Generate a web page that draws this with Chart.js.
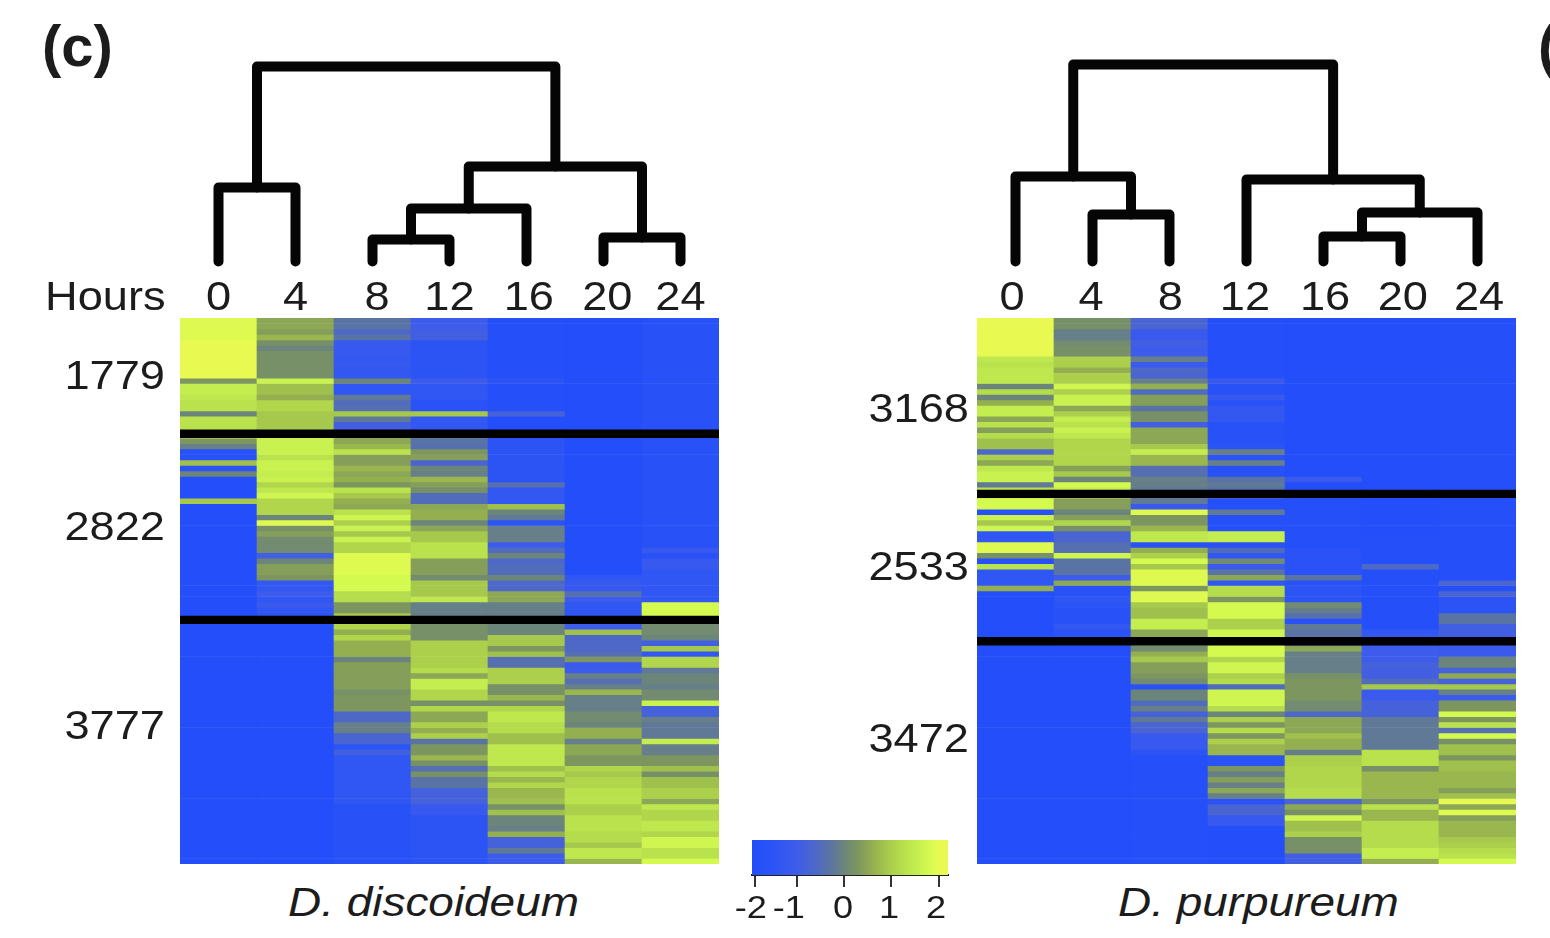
<!DOCTYPE html>
<html>
<head>
<meta charset="utf-8">
<title>Expression clusters</title>
<script src="https://cdn.jsdelivr.net/npm/chart.js@4"></script>
<style>
    html, body { margin: 0; background: #fff; }
    #page { position: relative; width: 1550px; height: 938px; overflow: hidden; }
    canvas { position: absolute; }
    .note { position: absolute; color: #1c1c1c; font-family: "Liberation Sans", sans-serif; white-space: nowrap; transform-origin: left top; }
</style>
</head>
<body>
<div id="page">
    <canvas id="ddTree" width="730" height="330" style="left:0;top:0"></canvas>
    <canvas id="ppTree" width="560" height="330" style="left:960px;top:0"></canvas>
    <canvas id="ddHeat" width="730" height="560" style="left:0;top:310px"></canvas>
    <canvas id="ppHeat" width="680" height="560" style="left:850px;top:310px"></canvas>
    <canvas id="colorKey" width="260" height="105" style="left:720px;top:830px"></canvas>
    <div class="note" style="left:42px;top:12px;font-size:58px;font-weight:bold">(c)</div>
    <div class="note" style="left:1538px;top:12px;font-size:58px;font-weight:bold">(</div>
    <div class="note" style="left:288px;top:879px;font-size:41px;font-style:italic;transform:scaleX(1.12)">D. discoideum</div>
    <div class="note" style="left:1118px;top:879px;font-size:41px;font-style:italic;transform:scaleX(1.12)">D. purpureum</div>
</div>

<script>
const hours = ['0', '4', '8', '12', '16', '20', '24'];

// z-scored expression per gene row, top to bottom, one list per time point
const ddHour0 = [
    1.9, 1.9, 1.9, 1.9, 2, 2, 2, 2, 2, 2,
    2, .3, 1.5, 1.5, 1.4, 1.3, 1.3, 0, 1.3, 1.3,
    1.3, 1.3, .3, -.1, -1.7, -1.7, .8, -1.6, 0, -1.9,
    -1.9, -1.9, -1.9, .9, -1.9, -1.9, -1.9, -1.9, -1.9, -1.9,
    -1.9, -1.9, -1.9, -1.9, -1.9, -1.9, -1.9, -1.9, -1.9, -1.9,
    -1.9, -1.9, -1.9, -1.9, -1.9, -1.9, -1.9, -1.9, -1.9, -1.9,
    -1.9, -1.9, -1.9, -1.9, -1.9, -1.9, -1.9, -1.9, -1.9, -1.9,
    -1.9, -1.9, -1.9, -1.9, -1.9, -1.9, -1.9, -1.9, -1.9, -1.9,
    -1.9, -1.9, -1.9, -1.9, -1.9, -1.9, -1.9, -1.9, -1.9, -1.9,
    -1.9, -1.9, -1.9, -1.9, -1.9, -1.9, -1.9, -1.9, -1.9, -1.9
];
const ddHour4 = [
    .5, .5, .4, .7, .2, 0, .2, .2, .2, .2,
    .2, 1.6, .8, .8, .6, 1.1, 1.1, .9, .9, .9,
    .9, 1.6, 1.6, 1.6, 1.6, 1.3, 1.6, 1.6, 1.5, 1.6,
    1.1, 1.4, 1.7, 1.1, 1.1, 1.1, 0, 1.9, .2, .4,
    .1, .1, .1, -.9, 0, .4, .4, .3, -1.3, -1.3,
    -1, -1.4, -1.1, -1.4, -1.5, -1.6, -1.9, -1.9, -1.9, -1.9,
    -1.9, -1.9, -1.9, -1.9, -1.9, -1.9, -1.9, -1.9, -1.9, -1.9,
    -1.9, -1.9, -1.9, -1.9, -1.9, -1.9, -1.9, -1.9, -1.9, -1.9,
    -1.9, -1.9, -1.9, -1.9, -1.9, -1.9, -1.9, -1.9, -1.9, -1.9,
    -1.9, -1.9, -1.9, -1.9, -1.9, -1.9, -1.9, -1.9, -1.9, -1.9
];
const ddHour8 = [
    -.3, -.3, -.6, -.3, -1.2, -1.2, -1.2, -1.3, -1.2, -1.3,
    -1.3, 0, -1.4, -1.4, -.2, -.5, -.4, .9, -.2, -.9,
    -.9, .5, .5, .7, 1.3, .4, .4, .7, .5, .6,
    .3, 1.3, .9, .6, .5, 1.3, 1.7, 1, 1.6, .9,
    1.6, 1.1, 1.1, 1.9, 1.9, 1.9, 1.9, 1.8, 1.8, 1.8,
    1.2, 1.2, .3, .3, .9, .8, 1.1, .6, 1.1, .6,
    .6, .6, 0, .4, .4, .4, .4, .4, .2, .3,
    .3, .3, -.6, -.6, -.1, -.1, -.7, -.7, -1.5, -.9,
    -1.4, -1.4, -1.4, -1.4, -1.4, -1.4, -1.4, -1.4, -1.4, -1.7,
    -1.7, -1.7, -1.7, -1.7, -1.7, -1.7, -1.7, -1.7, -1.7, -1.7
];
const ddHour12 = [
    -1, -1, -.9, -.9, -1.5, -1.5, -1.5, -1.5, -1.5, -1.5,
    -1.5, -1, -1.4, -1.4, -1.4, -1.6, -1.6, .9, -1.3, -1.3,
    -1.3, -.3, -.3, -.4, .3, .4, -.7, 0, -.1, .7,
    .4, .2, -.5, -.5, .5, .6, .6, 0, .5, .9,
    .9, 1.3, 1.3, 1.3, .4, .4, .4, .1, .9, .9,
    .9, 1.4, -.1, -.1, -.1, -.1, .2, .2, .2, 1,
    1, 1, 1, 1, 1.2, .5, 1.5, 1.5, 1.1, 1.1,
    .2, 1.1, .5, .5, 1, .6, 1, -.3, .3, .3,
    .7, .2, -.4, .2, -.3, -.3, -.8, -.8, -.8, -1.2,
    -1.2, -1.5, -1.5, -1.5, -1.5, -1.5, -1.5, -1.5, -1.5, -1.5
];
const ddHour16 = [
    -1.8, -1.8, -1.8, -1.8, -1.8, -1.8, -1.8, -1.8, -1.8, -1.8,
    -1.8, -1.5, -1.8, -1.8, -1.8, -1.8, -1.8, -.8, -1.9, -1.9,
    -1.9, -1.9, -1.5, -1.5, -1.5, -1.5, -1.5, -1.5, -1.5, -1.5,
    -.4, -1.3, -1.3, -1.3, .8, 0, -.2, -1.5, -.1, -.1,
    -.1, -1, -.5, 0, -.6, -.5, -.5, 0, -.6, -.6,
    .5, .5, -.1, -.1, -.1, -.1, 0, 0, .9, .9,
    .3, .8, -.4, -.4, 1, 1, 1, .2, .2, .7,
    .2, 1.1, 1.4, 1.4, 1.2, 1.2, .8, .8, 1.4, 1.4,
    1.4, 1.4, .8, 1.2, .7, 1.1, .7, .7, .8, .2,
    .8, 0, 0, -.1, .6, -.8, -.8, -.2, -1, -1
];
const ddHour20 = [
    -1.9, -1.9, -1.9, -1.9, -1.9, -1.9, -1.9, -1.9, -1.9, -1.9,
    -1.9, -1.9, -1.9, -1.9, -1.9, -1.9, -1.9, -1.9, -1.9, -1.9,
    -1.9, -1.9, -1.9, -1.9, -1.9, -1.9, -1.9, -1.9, -1.9, -1.9,
    -1.9, -1.9, -1.9, -1.9, -1.9, -1.9, -1.9, -1.9, -1.9, -1.9,
    -1.9, -1.9, -1.9, -1.9, -1.9, -1.9, -1.9, -1.4, -1.2, -1.2,
    -.4, -1, -1.4, -1.4, -1.4, -1.4, -1, .8, -.6, -.6,
    -.6, -.4, .3, -1.1, -1, -.1, -.4, -.1, .7, -.1,
    -.1, -.1, .1, .1, 0, .6, .6, -.1, .5, .5,
    .3, .3, 1.1, .9, 1.1, 1.1, 1.3, 1.3, 1.3, 1,
    1, 1.3, 1.3, 1.3, 1.2, 1.2, .9, 1.4, 1.4, .7
];
const ddHour24 = [
    -1.7, -1.7, -1.7, -1.7, -1.7, -1.7, -1.7, -1.7, -1.7, -1.7,
    -1.7, -1.7, -1.7, -1.7, -1.7, -1.7, -1.7, -1.7, -1.7, -1.7,
    -1.7, -1.7, -1.7, -1.7, -1.7, -1.7, -1.7, -1.7, -1.7, -1.7,
    -1.7, -1.7, -1.7, -1.7, -1.7, -1.7, -1.7, -1.7, -1.7, -1.7,
    -1.7, -1.7, -1.2, -1.7, -1.2, -1.2, -1.4, -1.4, -1.4, -1.4,
    -1.4, -1.4, 1.8, 1.8, 1.8, 1.8, .1, .1, 0, -.9,
    .9, -1.3, 1.1, 1.1, -.2, 0, 0, -.1, .1, .1,
    1.6, -.8, -.8, -.1, -.2, -.2, -.2, 1.5, -.1, -.1,
    .3, .3, .8, .2, .8, .8, 1, 1, .5, 1.4,
    1.1, 1.1, 1.4, 1.4, 1.1, 1.7, 1.7, 1.3, 1.3, 1.8
];

const ppHour0 = [
    2, 2, 2, 2, 2, 2, 2, 1.4, 1.3, 1.4,
    1.4, 1.4, 0, 1.2, 0, .6, 1.5, 1.5, .5, 1.3,
    .4, 1.2, .8, .8, -.6, 1, .5, 1.4, 1.6, 1.6,
    -.2, 1.3, 1.3, 1.8, 1.8, -1.7, 1.6, .9, 1.7, -1.4,
    -1.4, 1.9, 1.9, .2, -1.8, 1.3, -1.4, -1.4, -1.4, .6,
    -1.9, -1.9, -1.9, -1.9, -1.9, -1.9, -1.9, -1.9, -1.9, -1.9,
    -1.9, -1.9, -1.9, -1.9, -1.9, -1.9, -1.9, -1.9, -1.9, -1.9,
    -1.9, -1.9, -1.9, -1.9, -1.9, -1.9, -1.9, -1.9, -1.9, -1.9,
    -1.9, -1.9, -1.9, -1.9, -1.9, -1.9, -1.9, -1.9, -1.9, -1.9,
    -1.9, -1.9, -1.9, -1.9, -1.9, -1.9, -1.9, -1.9, -1.9, -1.9
];
const ppHour4 = [
    .2, .2, -.1, -.1, .1, .2, .2, 1, 1, .6,
    1, 1, 1.7, 1, 1.6, 1.6, .5, 1, 1.5, 1.3,
    1.6, 1.4, 1.1, 1.1, 1.1, 1.1, 1.1, .4, .9, 0,
    1.8, 1.5, 1, .4, .4, 0, .4, 1.1, .2, -.7,
    -.7, -.4, -.4, 1.7, -.3, -.3, -.3, -1, .5, -1.7,
    -1.7, -1.4, -1.5, -1.7, -1.7, -1.7, -1.3, -1.6, -1.6, -1.6,
    -1.9, -1.9, -1.9, -1.9, -1.9, -1.9, -1.9, -1.9, -1.9, -1.9,
    -1.9, -1.9, -1.9, -1.9, -1.9, -1.9, -1.9, -1.9, -1.9, -1.9,
    -1.9, -1.9, -1.9, -1.9, -1.9, -1.9, -1.9, -1.9, -1.9, -1.9,
    -1.9, -1.9, -1.9, -1.9, -1.9, -1.9, -1.9, -1.9, -1.9, -1.9
];
const ppHour8 = [
    -.7, -.7, -1.1, -1.1, -.9, -1, -1, -.1, -1.1, -.6,
    -.7, -.1, .6, -.5, .4, .4, -.3, .2, .2, -.9,
    .5, .5, .5, .9, 1.5, .7, .7, -.4, -.4, -.1,
    -.1, -.2, -.2, -.2, -1.1, 1.9, .3, .3, .7, 1.4,
    1.4, -1.6, .6, 1, 1.8, .9, 1.9, 1.9, 1.9, .3,
    1.9, 1.9, .9, .8, .8, 1.5, 1.5, .5, .5, .5,
    .1, .6, .9, .4, .4, .3, .1, -1.6, 0, 0,
    -.5, -.1, -.8, -.2, -.7, -.7, -1.2, -1.2, -1.2, -1.5,
    -1.8, -1.8, -1.8, -1.8, -1.8, -1.8, -1.8, -1.8, -1.8, -1.8,
    -1.8, -1.8, -1.8, -1.8, -1.8, -1.8, -1.8, -1.8, -1.8, -1.8
];
const ppHour12 = [
    -1.8, -1.8, -1.8, -1.8, -1.8, -1.8, -1.8, -1.8, -1.8, -1.8,
    -1.8, -1.1, -1.7, -1.7, -1.2, -1.7, -1.3, -1.3, -1.3, -1.7,
    -1.7, -1.7, -1.7, -1.5, -.1, -1.5, -.1, -1.7, -1.7, -.3,
    -.2, -.4, -.4, -1.8, -1.8, -.2, -1.8, -1.8, -1.8, 1.5,
    1.5, -1.6, -.5, -1.4, .1, -1.1, -.3, .5, -1.4, 1.2,
    1.2, .3, 1.8, 1.8, 1.8, 1, 1, 1.7, 1.7, 1.7,
    1.8, 1.8, 1.1, 1.7, 1.7, 1, 1.2, -.5, 1.7, 1.7,
    1.7, 1.2, 0, 1, .3, 1.2, .3, 1, .7, .7,
    -1.5, -1.5, .3, -.1, .4, -.1, .5, -.1, -1.6, -.7,
    -.7, -1.2, -1.2, -1.9, -1.9, -1.9, -1.9, -1.9, -1.9, -1.9
];
const ppHour16 = [
    -1.9, -1.9, -1.9, -1.9, -1.9, -1.9, -1.9, -1.9, -1.9, -1.9,
    -1.9, -1.9, -1.9, -1.9, -1.9, -1.9, -1.9, -1.9, -1.9, -1.9,
    -1.9, -1.9, -1.9, -1.9, -1.9, -1.9, -1.9, -1.9, -1.9, -1.1,
    -1.9, -1.9, -1.9, -1.8, -1.8, -1.8, -1.8, -1.8, -1.8, -1.8,
    -1.8, -1.8, -1.6, -1.6, -1.6, -1.6, -1.6, -.3, -1.7, -1.5,
    -1.5, -1.5, .1, -.1, -.4, -1.6, -.2, -.3, -.3, -.3,
    .5, -.1, -.1, -.1, -.1, .2, .3, .3, .3, .3,
    .1, .1, -.6, .5, .5, .5, .8, .6, .6, -.1,
    1, 1, 1.1, 1.1, 1.1, 1.1, 1.2, 1.2, -.7, .5,
    .2, 1.7, .8, .8, 1, .2, .2, .2, -.9, -.9
];
const ppHour20 = [
    -1.9, -1.9, -1.9, -1.9, -1.9, -1.9, -1.9, -1.9, -1.9, -1.9,
    -1.9, -1.9, -1.9, -1.9, -1.9, -1.9, -1.9, -1.9, -1.9, -1.9,
    -1.9, -1.9, -1.9, -1.9, -1.9, -1.9, -1.9, -1.9, -1.9, -1.9,
    -1.9, -1.9, -1.9, -1.9, -1.9, -1.9, -1.9, -1.9, -1.9, -1.9,
    -1.8, -1.8, -1.8, -1.8, -1.8, -.6, -1.8, -1.8, -1.8, -1.8,
    -1.8, -1.8, -1.8, -1.8, -1.8, -1.8, -1.8, -1.3, -1.3, -1.3,
    -1, -1, -1, -.8, -.9, -.9, -.5, .9, -1.1, -1.1,
    -.8, -.8, -.8, -.2, -.2, -.2, -.2, -.2, -.2, 1.3,
    1.3, 1.3, .2, .7, .7, .7, .7, .7, .3, 1.3,
    .7, .7, 1.2, 1.2, 1.2, 1.2, 1.2, 1.5, 1.5, .6
];
const ppHour24 = [
    -1.8, -1.8, -1.8, -1.8, -1.8, -1.8, -1.8, -1.8, -1.8, -1.8,
    -1.8, -1.8, -1.8, -1.8, -1.8, -1.8, -1.8, -1.8, -1.8, -1.8,
    -1.8, -1.8, -1.8, -1.8, -1.8, -1.8, -1.8, -1.8, -1.8, -1.8,
    -1.8, -1.8, -1.8, -1.8, -1.8, -1.8, -1.8, -1.8, -1.8, -1.8,
    -1.8, -1.8, -1.8, -1.8, -1.8, -1.8, -1.8, -1.8, -.7, -1.8,
    -.7, -1.5, -1.5, -1.5, -.3, -.3, -.9, -.9, -.9, -.9,
    -1.1, -1.1, 0, 0, -.8, .5, -.8, .9, -.1, -1,
    .3, .3, 1.8, .3, 1.3, -.4, 1.8, .2, .8, .8,
    .3, .8, .8, .7, .7, .7, .4, .8, 2, .5,
    1.9, .4, .7, .7, .7, .9, 1, 1.2, 1.3, 1.8
];

const ddColumns = [ddHour0, ddHour4, ddHour8, ddHour12, ddHour16, ddHour20, ddHour24];
const ppColumns = [ppHour0, ppHour4, ppHour8, ppHour12, ppHour16, ppHour20, ppHour24];

// cluster sizes, the row each one is centred on, and the row where clusters split
const ddClusterSizes = ['1779', '2822', '3777'];
const ddClusterRows = [10.9, 38.7, 75];
const ddSplits = [21.2, 55.3];
const ppClusterSizes = ['3168', '2533', '3472'];
const ppClusterRows = [17, 46, 77.5];
const ppSplits = [32.2, 59.2];

// dendrograms in hclust form: negative = leaf column, positive = earlier merge, then height
const ddMerges = [[-1, -2, 74], [-3, -4, 22], [2, -5, 53], [-6, -7, 24], [3, 4, 95], [1, 5, 195]];
const ppMerges = [[-2, -3, 47], [-1, 1, 85], [-5, -6, 25], [3, -7, 49], [-4, 4, 82], [2, 5, 197]];

// hour labels sit a little off their columns, in column units
const ddHourTicks = [-1.47, 0, 1, 2.06, 3, 4.03, 5.05, 6];
const ddHourLabels = ['Hours'].concat(hours);
const ppHourTicks = [-.045, .98, 2.01, 2.98, 4.02, 5.03, 6.02];

const zStops = [-2, -1.5, -1, -.6, -.3, 0, .3, .6, 1, 1.4, 1.8, 2];
const zColors = [
    [33, 76, 250], [44, 84, 245], [62, 92, 235], [78, 104, 200],
    [90, 115, 165], [108, 133, 122], [125, 150, 95], [148, 175, 80],
    [172, 208, 75], [190, 232, 78], [212, 250, 80], [232, 250, 82]
];

// key tick marks and the labels under them are placed separately, the labels are squeezed at the low end
const keyTicks = [-1.87, -1, 0, 1, 2];
const keyLabelAt = [-1.96, -1.16, -.02, .95, 1.94];
const keyLabels = ['-2', '-1', '0', '1', '2'];

const textColor = '#1c1c1c';
const fontFamily = '"Liberation Sans", sans-serif';
const rowCount = 100;
const colWidth = 77;
const splitThickness = 1.4;

function zColor(z) {
    let i = 0;
    while (i < zStops.length - 2 && z > zStops[i + 1]) i++;
    const t = Math.min(1, Math.max(0, (z - zStops[i]) / (zStops[i + 1] - zStops[i])));
    const c = zColors[i].map((v, k) => Math.round(v + (zColors[i + 1][k] - v) * t));
    return `rgb(${c[0]}, ${c[1]}, ${c[2]})`;
}

// lettering here is a bit wider than Liberation Sans, so stretch each label about its anchor
const wideText = {
    id: 'wideText',
    beforeDraw(chart) {
        const ctx = chart.ctx;
        if (ctx.plainFillText) return;
        ctx.plainFillText = ctx.fillText;
        ctx.fillText = function (text, x, y) {
            this.save();
            this.translate(x, y);
            this.scale(1.13, 1);
            this.plainFillText(text, 0, 0);
            this.restore();
        };
    }
};

function fixedTicks(values) {
    return scale => {
        scale.ticks = values.map(value => ({ value }));
    };
}

function drawHeatmap(canvasId, columns, sizes, rows, splits, padding, axisWidth, tickPad) {
    const datasets = [];
    splits.forEach(row => {
        datasets.push({
            data: columns.map(() => [row - splitThickness / 2, row + splitThickness / 2]),
            backgroundColor: '#000',
            order: 0
        });
    });
    for (let r = 0; r < rowCount; r++) {
        datasets.push({
            data: columns.map(() => [r, r + 1]),
            backgroundColor: columns.map(col => zColor(col[r])),
            order: 1
        });
    }
    new Chart(document.getElementById(canvasId), {
        type: 'bar',
        data: { labels: hours, datasets: datasets },
        plugins: [wideText],
        options: {
            responsive: false,
            animation: false,
            layout: { padding: padding },
            datasets: { bar: { grouped: false, barPercentage: 1, categoryPercentage: 1, borderWidth: 0 } },
            plugins: { legend: { display: false }, tooltip: { enabled: false } },
            scales: {
                x: { display: false },
                y: {
                    type: 'linear',
                    reverse: true,
                    min: 0,
                    max: rowCount,
                    afterBuildTicks: fixedTicks(rows),
                    afterFit: scale => {
                        scale.width = axisWidth;
                        scale.paddingTop = 0;
                        scale.paddingBottom = 0;
                    },
                    grid: { display: false, drawTicks: false },
                    border: { display: false },
                    ticks: {
                        autoSkip: false,
                        padding: tickPad,
                        color: textColor,
                        font: { family: fontFamily, size: 40 },
                        callback: (v, i) => sizes[i]
                    }
                }
            }
        }
    });
}

function drawTree(canvasId, merges, tickValues, tickLabels, firstLeaf) {
    const xAt = [];
    const heightAt = [];
    const nodeX = n => (n < 0 ? -n - 1 : xAt[n - 1]);
    const nodeH = n => (n < 0 ? 0 : heightAt[n - 1]);
    const datasets = merges.map((m, i) => {
        const x1 = nodeX(m[0]);
        const x2 = nodeX(m[1]);
        xAt[i] = (x1 + x2) / 2;
        heightAt[i] = m[2];
        return {
            data: [
                { x: x1, y: nodeH(m[0]) },
                { x: x1, y: m[2] },
                { x: x2, y: m[2] },
                { x: x2, y: nodeH(m[1]) }
            ],
            showLine: true,
            borderColor: '#050505',
            borderWidth: 10,
            borderCapStyle: 'round',
            borderJoinStyle: 'round',
            pointRadius: 0,
            clip: false
        };
    });
    const canvas = document.getElementById(canvasId);
    new Chart(canvas, {
        type: 'scatter',
        data: { datasets: datasets },
        plugins: [wideText],
        options: {
            responsive: false,
            animation: false,
            layout: { padding: 0 },
            plugins: { legend: { display: false }, tooltip: { enabled: false } },
            scales: {
                x: {
                    type: 'linear',
                    min: -firstLeaf / colWidth,
                    max: (canvas.width - firstLeaf) / colWidth,
                    afterBuildTicks: fixedTicks(tickValues),
                    afterFit: scale => { scale.height = 68.5; },
                    grid: { display: false },
                    border: { display: false },
                    ticks: {
                        autoSkip: false,
                        maxRotation: 0,
                        minRotation: 0,
                        padding: 5,
                        color: textColor,
                        font: { family: fontFamily, size: 40 },
                        callback: (v, i) => tickLabels[i]
                    }
                },
                y: { type: 'linear', display: false, min: 0, max: 261.5 }
            }
        }
    });
}

function drawColorKey() {
    const low = -1.937;
    const high = 2.19;
    new Chart(document.getElementById('colorKey'), {
        type: 'bar',
        data: {
            labels: ['z'],
            datasets: [{
                data: [[low, high]],
                barPercentage: 1,
                categoryPercentage: 1,
                backgroundColor: ctx => {
                    const { chart } = ctx;
                    const area = chart.chartArea;
                    if (!area) return zColor(0);
                    const x = chart.scales.x;
                    const g = chart.ctx.createLinearGradient(area.left, 0, area.right, 0);
                    zStops.forEach(z => {
                        const at = (x.getPixelForValue(z) - area.left) / (area.right - area.left);
                        if (at >= 0 && at <= 1) g.addColorStop(at, zColor(z));
                    });
                    g.addColorStop(0, zColor(low));
                    g.addColorStop(1, zColor(high));
                    return g;
                }
            }]
        },
        plugins: [wideText],
        options: {
            indexAxis: 'y',
            responsive: false,
            animation: false,
            layout: { padding: { left: 32, right: 32, top: 10, bottom: 0 } },
            plugins: { legend: { display: false }, tooltip: { enabled: false } },
            scales: {
                y: { display: false },
                x: {
                    type: 'linear',
                    min: low,
                    max: high,
                    afterBuildTicks: fixedTicks(keyTicks),
                    afterFit: scale => { scale.height = 12; },
                    border: { display: true, color: '#222', width: 2 },
                    grid: { drawOnChartArea: false, color: '#333', lineWidth: 2, tickLength: 12 },
                    ticks: { display: false, autoSkip: false }
                },
                keyText: {
                    type: 'linear',
                    axis: 'x',
                    position: 'bottom',
                    weight: 1,
                    min: low,
                    max: high,
                    afterBuildTicks: fixedTicks(keyLabelAt),
                    afterFit: scale => { scale.height = 48; },
                    grid: { display: false, drawTicks: false },
                    border: { display: false },
                    ticks: {
                        autoSkip: false,
                        maxRotation: 0,
                        minRotation: 0,
                        padding: 3,
                        color: textColor,
                        font: { family: fontFamily, size: 32 },
                        callback: (v, i) => keyLabels[i]
                    }
                }
            }
        }
    });
}

drawTree('ddTree', ddMerges, ddHourTicks, ddHourLabels, 218.5);
drawTree('ppTree', ppMerges, ppHourTicks, hours, 55.5);
drawHeatmap('ddHeat', ddColumns, ddClusterSizes, ddClusterRows, ddSplits, { top: 8, bottom: 6, right: 11 }, 180, 15);
drawHeatmap('ppHeat', ppColumns, ppClusterSizes, ppClusterRows, ppSplits, { top: 8, bottom: 6, right: 14 }, 127, 8);
drawColorKey();
</script>
</body>
</html>
